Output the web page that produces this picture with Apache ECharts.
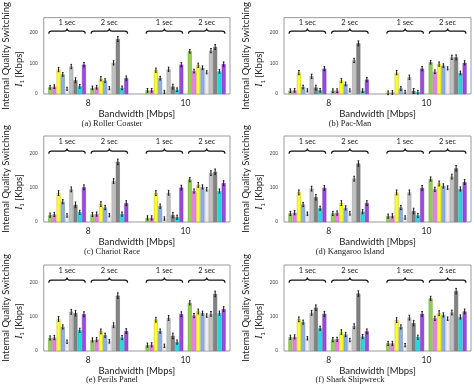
<!DOCTYPE html>
<html>
<head>
<meta charset="utf-8">
<script src="https://cdn.jsdelivr.net/npm/echarts@6/dist/echarts.min.js"></script>
<style>html,body{margin:0;padding:0;background:#fff;}#c{width:474px;height:386px;}</style>
</head>
<body>
<div id="c"></div>
<script>
// ---- data ----
const seriesNames = ['S1 (green)','S2 (pink)','S3 (yellow)','S4 (blue)','S5 (white)','S6 (light gray)','S7 (dark gray)','S8 (cyan)','S9 (purple)'];
const groupNames = ['8 Mbps / 1 sec','8 Mbps / 2 sec','10 Mbps / 1 sec','10 Mbps / 2 sec'];
const braceLabels = ['1 sec','2 sec','1 sec','2 sec'];
const bandwidthLabels = ['8','10'];
const yTicks = [0,100,200];
// values per group (rows) and series (columns), Kbps
const rollerCoaster = [
  [22,24,80,64,17,90,45,25,96],
  [20,22,50,44,19,102,180,20,52],
  [12,12,78,52,7,81,24,14,96],
  [140,75,94,86,71,142,154,74,98]
];
const pacMan = [
  [11,12,70,23,12,58,21,12,83],
  [11,11,44,33,12,110,166,11,47],
  [4,5,70,18,7,55,10,6,83],
  [104,73,98,93,84,120,120,69,102]
];
const chariotRace = [
  [20,22,84,59,19,95,50,28,101],
  [22,23,52,42,20,119,175,23,55],
  [12,12,84,46,10,85,20,14,100],
  [123,90,108,102,95,142,146,90,113]
];
const kangarooIsland = [
  [25,27,86,51,24,97,72,40,99],
  [25,26,55,41,25,126,170,30,55],
  [17,18,86,42,13,86,32,19,99],
  [125,95,112,105,100,132,156,96,116]
];
const perilsPanel = [
  [38,39,93,70,27,114,110,60,107],
  [32,33,57,46,28,75,161,39,58],
  [17,18,91,58,15,96,44,26,107],
  [140,103,115,110,103,108,166,110,122]
];
const sharkShipwreck = [
  [40,41,92,84,37,111,126,66,108],
  [33,34,55,48,32,72,167,42,57],
  [22,22,90,70,17,97,81,40,108],
  [153,95,110,105,94,112,174,99,115]
];
const errorHalf = [6,6,7,6,5,7,8,6,7];
const captions = ['(a) Roller Coaster','(b) Pac-Man','(c) Chariot Race','(d) Kangaroo Island','(e) Perils Panel','(f) Shark Shipwreck'];

// ---- layout ----
const colors = ['#92D050','#EE7AEE','#FFFF22','#8EAFE0','#EEEEEE','#C2C2C2','#828282','#1FDDE6','#9A48E6'];
const edges  = ['#6E9E3C','#B85CB8','#BDBD10','#6A86B0','#B8B8B8','#959595','#5E5E5E','#17A8AE','#7035AE'];
const panelData = [rollerCoaster, pacMan, chariotRace, kangarooIsland, perilsPanel, sharkShipwreck];
const groupStart = [1, 11, 24, 34];
const nSlots = 44;
const labelSlots = [10, 33];
const categories = [];
for (let i = 0; i < nSlots; i++) categories.push('');
labelSlots.forEach((s, i) => categories[s] = bandwidthLabels[i]);

const colL = [{left:40, width:190, capX:112}, {left:284, width:187, capX:350}];
const rowT = [{top:8, capY:124}, {top:136, capY:252}, {top:265, capY:380}];
const gh = 86;

const grid = [], xAxis = [], yAxis = [], series = [], graphic = [];
const sans = 'Lato, "Open Sans", sans-serif';

panelData.forEach((vals, p) => {
  const c = colL[p % 2], r = rowT[Math.floor(p / 2)];
  grid.push({left:c.left, top:r.top, width:c.width, height:gh, show:true, borderColor:'#9a9a9a', borderWidth:1, backgroundColor:'transparent'});
  xAxis.push({type:'category', gridIndex:p, data:categories,
    axisLine:{show:false}, axisTick:{show:false},
    axisLabel:{interval:0, fontSize:8.5, color:'#222', margin:5, fontFamily:sans},
    name:'Bandwidth [Mbps]', nameLocation:'middle', nameGap:13,
    nameTextStyle:{fontSize:9.5, color:'#222', fontFamily:sans}});
  yAxis.push({type:'value', gridIndex:p, min:0, max:250, interval:100,
    splitLine:{show:false}, axisLine:{show:false}, axisTick:{show:false},
    axisLabel:{fontSize:5, color:'#444', margin:6, formatter: v => yTicks.includes(v) ? String(v) : ''},
    name:'{a|Internal Quality Switching}\n{i|I}{s|1}{a| [Kbps]}{pad|}', nameLocation:'middle', nameRotate:90, nameGap:18,
    nameTextStyle:{rich:{
      a:{fontSize:9.5, color:'#222', fontFamily:sans, lineHeight:13},
      i:{fontSize:9.5, color:'#222', fontFamily:'"Liberation Serif", serif', fontStyle:'italic', lineHeight:13},
      s:{fontSize:6, color:'#222', fontFamily:sans, lineHeight:13, verticalAlign:'bottom', padding:[3,0,0,0]},
      pad:{width:26, lineHeight:13}
    }}});
  // bars
  for (let k = 0; k < 9; k++) {
    const d = categories.map(() => '-');
    vals.forEach((row, g) => { d[groupStart[g] + k] = row[k]; });
    series.push({type:'bar', name:seriesNames[k], xAxisIndex:p, yAxisIndex:p, data:d, stack:'s' + p,
      barWidth:'92%', itemStyle:{color:colors[k], borderColor:edges[k], borderWidth:0.5}, silent:true, animation:false});
  }
  // error bars
  const ed = [];
  vals.forEach((row, g) => row.forEach((v, k) => ed.push([groupStart[g] + k, v, errorHalf[k]])));
  series.push({type:'custom', xAxisIndex:p, yAxisIndex:p, data:ed, z:5, animation:false, silent:true,
    encode:{x:0, y:1},
    renderItem:(params, api) => {
      const x = api.value(0), v = api.value(1), e = api.value(2);
      const t = api.coord([x, v + e]), b = api.coord([x, v - e]);
      const st = {stroke:'#1a1a1a', lineWidth:1};
      return {type:'group', children:[
        {type:'line', shape:{x1:t[0], y1:t[1], x2:b[0], y2:b[1]}, style:st},
        {type:'line', shape:{x1:t[0]-0.8, y1:t[1], x2:t[0]+0.8, y2:t[1]}, style:st},
        {type:'line', shape:{x1:b[0]-0.8, y1:b[1], x2:b[0]+0.8, y2:b[1]}, style:st}
      ]};
    }});
  // braces
  const bd = groupStart.map(s => [s, s + 8, 206, 233]);
  series.push({type:'custom', xAxisIndex:p, yAxisIndex:p, data:bd, z:6, animation:false, silent:true,
    encode:{x:[0,1], y:[2,3]},
    renderItem:(params, api) => {
      const s = api.value(0), e = api.value(1), yv = api.value(2), tv = api.value(3);
      const w = api.size([1, 0])[0];
      const p0 = api.coord([s, yv]), p1 = api.coord([e, yv]);
      const x0 = p0[0] - w / 2 + 0.8, x1 = p1[0] + w / 2 - 0.8, y = p0[1], xm = (x0 + x1) / 2, h = 2.6;
      const ty = api.coord([s, tv])[1];
      const path = `M${x0},${y+h} Q${x0},${y} ${x0+h},${y} L${xm-h},${y} Q${xm},${y} ${xm},${y-h} Q${xm},${y} ${xm+h},${y} L${x1-h},${y} Q${x1},${y} ${x1},${y+h}`;
      return {type:'group', children:[
        {type:'path', shape:{pathData:path}, style:{stroke:'#111', lineWidth:1.1, fill:null}},
        {type:'text', x:xm, y:ty, style:{text:braceLabels[params.dataIndex], align:'center', verticalAlign:'middle', fontSize:7.5, fontFamily:sans, fill:'#222'}}
      ]};
    }});
  graphic.push({type:'text', x:c.capX, y:r.capY, style:{text:captions[p], align:'center', verticalAlign:'middle', fontSize:8.5, fontFamily:'"Liberation Serif", "Times New Roman", serif', fill:'#222'}});
});

const chart = echarts.init(document.getElementById('c'), null, {renderer:'canvas'});
chart.setOption({animation:false, backgroundColor:'#fff', grid, xAxis, yAxis, series, graphic});
</script>
</body>
</html>
